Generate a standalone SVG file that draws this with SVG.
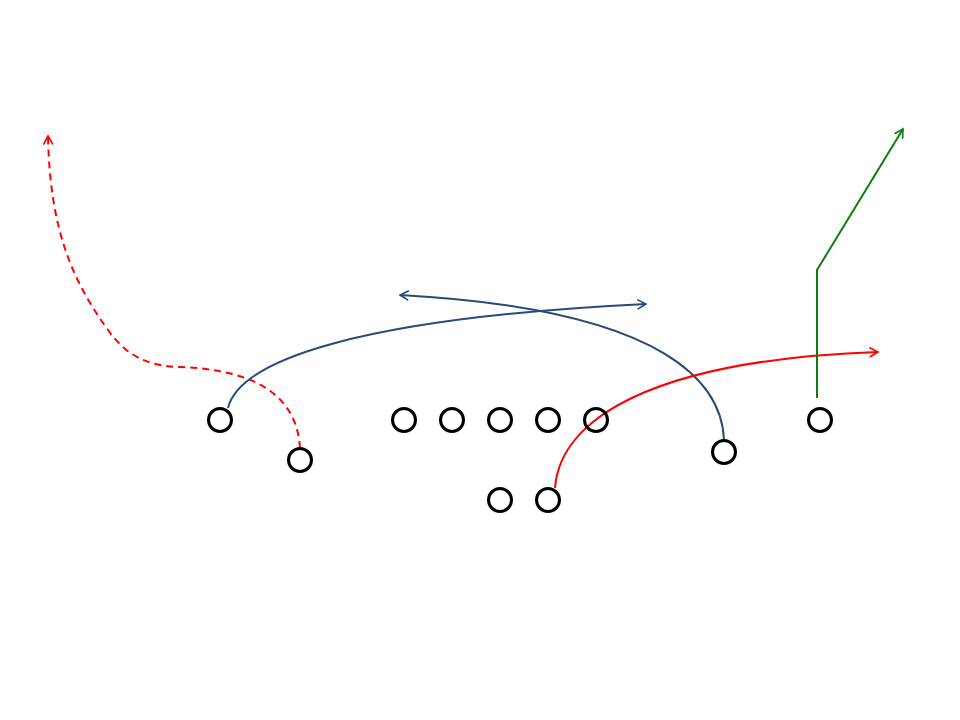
<svg xmlns="http://www.w3.org/2000/svg" width="960" height="720" viewBox="0 0 960 720">
<defs>
<marker id="arR" viewBox="0 0 12 12" refX="10" refY="6" markerWidth="12" markerHeight="12" markerUnits="userSpaceOnUse" orient="auto">
<path d="M2,1.5 L10,6 L2,10.5" fill="none" stroke="#ff0000" stroke-width="1.6" stroke-linecap="round"/>
</marker>
<marker id="arB" viewBox="0 0 12 12" refX="10" refY="6" markerWidth="12" markerHeight="12" markerUnits="userSpaceOnUse" orient="auto">
<path d="M2,1.5 L10,6 L2,10.5" fill="none" stroke="#254b7c" stroke-width="1.6" stroke-linecap="round"/>
</marker>
<marker id="arG" viewBox="0 0 12 12" refX="10" refY="6" markerWidth="12" markerHeight="12" markerUnits="userSpaceOnUse" orient="auto">
<path d="M2,1.5 L10,6 L2,10.5" fill="none" stroke="#107c10" stroke-width="1.6" stroke-linecap="round"/>
</marker>
</defs>
<style>
.p{fill:none;stroke:#000;stroke-width:3}
.c{fill:none;stroke-width:2}
.red{stroke:#ff0000}
.blue{stroke:#254b7c}
.green{stroke:#107c10}
</style>
<rect width="960" height="720" fill="#fff"/>
<g id="connectors">
<path class="c red" stroke-dasharray="7,5" d="M300,448 C297,400 262,370 180,367 C150,366 128,358 108,330 C72,280 50,230 48,136" marker-end="url(#arR)"/>
<path class="c blue" d="M228,408 C240,360 360,318 646,304" marker-end="url(#arB)"/>
<path class="c blue" d="M724,440 C722,388 675,310 400,295" marker-end="url(#arB)"/>
<path class="c red" d="M555,488 C560,420 650,360 878,352" marker-end="url(#arR)"/>
<path class="c green" d="M817,398 L817,270 L903,129" marker-end="url(#arG)"/>
</g>
<g id="p1"><circle class="p" cx="220" cy="420" r="11.5"/></g>
<g id="p2"><circle class="p" cx="300" cy="460" r="11.5"/></g>
<g id="p3"><circle class="p" cx="404" cy="420" r="11.5"/></g>
<g id="p4"><circle class="p" cx="452" cy="420" r="11.5"/></g>
<g id="p5"><circle class="p" cx="500" cy="420" r="11.5"/></g>
<g id="p6"><circle class="p" cx="548" cy="420" r="11.5"/></g>
<g id="p7"><circle class="p" cx="596" cy="420" r="11.5"/></g>
<g id="p8"><circle class="p" cx="500" cy="500" r="11.5"/></g>
<g id="p9"><circle class="p" cx="548" cy="500" r="11.5"/></g>
<g id="p10"><circle class="p" cx="724" cy="452" r="11.5"/></g>
<g id="p11"><circle class="p" cx="820" cy="420" r="11.5"/></g>
</svg>
